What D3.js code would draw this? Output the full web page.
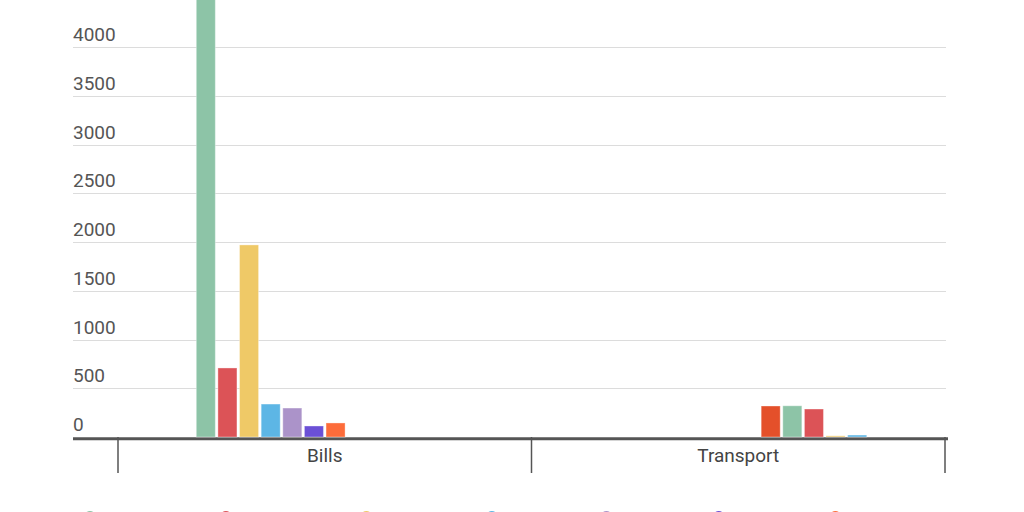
<!DOCTYPE html>
<html>
<head>
<meta charset="utf-8">
<script src="https://cdn.jsdelivr.net/npm/d3@7"></script>
<style>
  html, body { margin: 0; padding: 0; background: #fff; }
  svg { display: block; font-family: Roboto, "Noto Sans", sans-serif; }
</style>
</head>
<body>
<svg id="chart" width="1024" height="512"></svg>
<script>
// ---- data ----
const categories = ["Bills", "Transport"];
const months = ["January", "February", "March", "April", "May", "June",
                "July", "August", "September", "October", "November", "December"];
const billsValues     = [4580, 708, 1970, 338, 297, 113, 144, 0, 0, 0, 0, 0];
const transportValues = [0, 0, 0, 0, 0, 0, 0, 318, 320, 287, 12, 20];
const seriesColors = ["#8dc4a7", "#dc5357", "#efc967", "#5db6e5", "#ab93c9", "#6b50d6",
                      "#fd6c3a", "#e4502a", "#8dc4a7", "#dc5357", "#efc967", "#5db6e5"];
const yTicks = [0, 500, 1000, 1500, 2000, 2500, 3000, 3500, 4000, 4500];

const valuesByCategory = { "Bills": billsValues, "Transport": transportValues };

// ---- layout ----
const svg = d3.select("#chart");
const plotLeft = 73, plotRight = 946, bandLeft = 118, bandRight = 945;
const zeroY = 437, topY = -1.75;

const x0 = d3.scaleBand().domain(categories).range([bandLeft, bandRight]).paddingInner(0).paddingOuter(0);
const x1 = d3.scaleBand().domain(months).range([0, x0.bandwidth()]).paddingInner(0.12).paddingOuter(3.62);
const y = d3.scaleLinear().domain([0, 4500]).range([zeroY, topY]);

// gridlines
const grid = svg.append("g");
grid.selectAll("line").data(yTicks.filter(d => d > 0)).join("line")
  .attr("x1", plotLeft).attr("x2", plotRight)
  .attr("y1", d => Math.round(y(d)) + 0.5).attr("y2", d => Math.round(y(d)) + 0.5)
  .attr("stroke", "#dcdcdc").attr("stroke-width", 1);

// y tick labels
svg.append("g").selectAll("text").data(yTicks).join("text")
  .attr("x", plotLeft).attr("y", d => y(d) - 6)
  .attr("font-size", 19).attr("fill", "#555")
  .text(d => d);

// x axis: baseline + category separators (drawn beneath the bars)
const xAxis = svg.append("g");
xAxis.selectAll("line.sep").data([bandLeft, ...categories.map(c => x0(c) + x0.bandwidth())]).join("line")
  .attr("class", "sep")
  .attr("x1", d => d).attr("x2", d => d)
  .attr("y1", zeroY).attr("y2", zeroY + 36)
  .attr("stroke", "#555").attr("stroke-width", 1.5);
xAxis.append("line")
  .attr("x1", plotLeft).attr("x2", bandRight + 3)
  .attr("y1", zeroY + 1.8).attr("y2", zeroY + 1.8)
  .attr("stroke", "#555").attr("stroke-width", 3);
xAxis.selectAll("text").data(categories).join("text")
  .attr("x", c => x0(c) + x0.bandwidth() / 2)
  .attr("y", zeroY + 25)
  .attr("text-anchor", "middle")
  .attr("font-size", 19).attr("fill", "#444")
  .text(c => c);

// bars
const groups = svg.append("g").selectAll("g").data(categories).join("g")
  .attr("transform", c => `translate(${x0(c)},0)`);
groups.selectAll("rect")
  .data(c => months.map((m, i) => ({ m, i, v: valuesByCategory[c][i] })).filter(d => d.v > 0))
  .join("rect")
  .attr("x", d => x1(d.m))
  .attr("width", x1.bandwidth())
  .attr("y", d => y(d.v))
  .attr("height", d => y(0) - y(d.v))
  .attr("fill", d => seriesColors[d.i])
  .attr("stroke", "#fff").attr("stroke-opacity", 0.35).attr("stroke-width", 1);

// legend (wrapped rows, mostly below the visible area)
const legend = svg.append("g");
const r = 6, gap = 8, itemPad = 66, maxRow = 900, legendX = 84, legendY = 517, rowH = 30;
const items = legend.selectAll("g").data(months).join("g");
items.append("circle").attr("r", r).attr("fill", (d, i) => seriesColors[i]);
items.append("text").attr("x", r + gap).attr("y", 7)
  .attr("font-size", 14).attr("fill", "#555").text(d => d);
const widths = [];
items.each(function () { widths.push(this.querySelector("text").getComputedTextLength() + r * 2 + gap + itemPad); });
let rows = [[]], rw = 0;
widths.forEach((w, i) => {
  if (rw + w > maxRow && rows[rows.length - 1].length) { rows.push([]); rw = 0; }
  rows[rows.length - 1].push(i); rw += w;
});
rows.forEach((row, ri) => {
  let cx = legendX + r;
  row.forEach(i => {
    d3.select(items.nodes()[i]).attr("transform", `translate(${cx},${legendY + ri * rowH})`);
    cx += widths[i];
  });
});
</script>
</body>
</html>
